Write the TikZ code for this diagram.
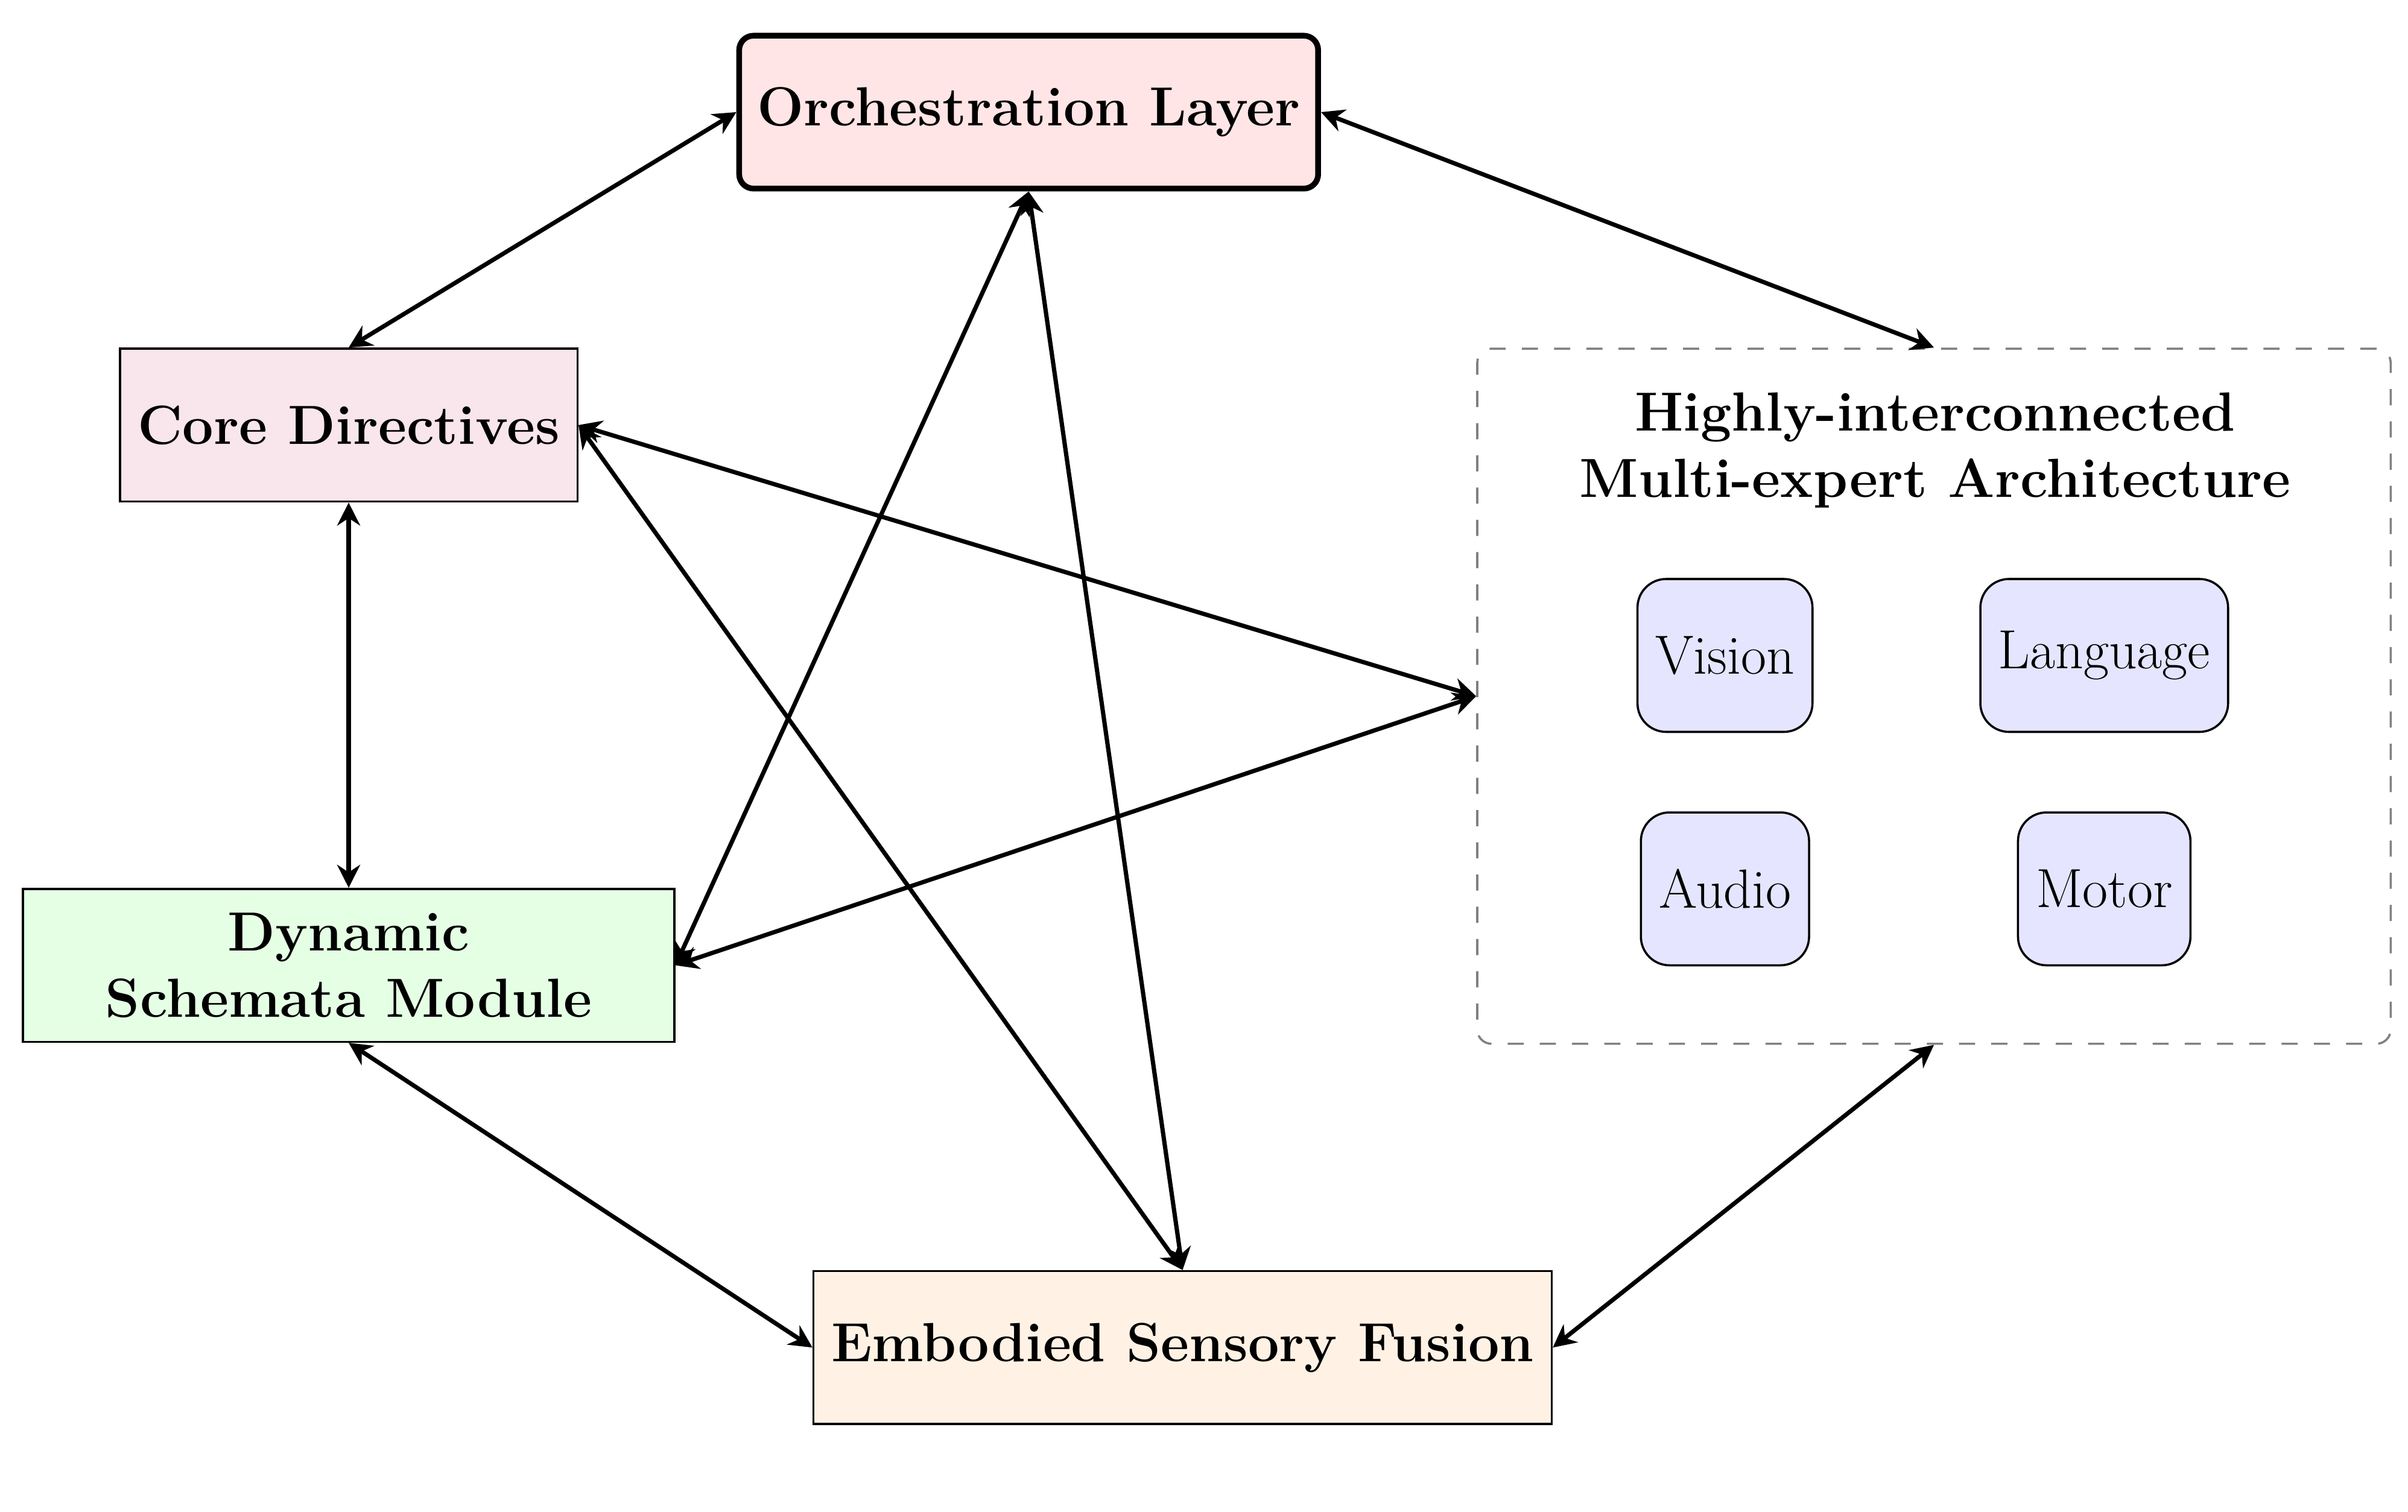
\documentclass[tikz,border=0pt]{standalone}
\usepackage{amsmath}
\usepackage{tikz}
\usetikzlibrary{arrows.meta}

\begin{document}
\begin{tikzpicture}[
    box/.style={draw, semithick, minimum height=1.5cm, inner xsep=5pt, font=\fontsize{15.4}{18.5}\selectfont\bfseries, align=center},
    expert/.style={draw, semithick, rounded corners=8pt, fill=blue!10, minimum height=1.5cm, inner xsep=5pt, font=\fontsize{15.4}{18.5}\selectfont},
    link/.style={{Stealth[length=6.4pt,width=6.4pt]}-{Stealth[length=6.4pt,width=6.4pt]}, very thick}
  ]
  \useasboundingbox (0,0) rectangle (23.62,-14.83);

  \node [box, fill=purple!10] (core) at (3.42,-4.17) {Core Directives};
  \node [box, fill=red!10, ultra thick, rounded corners] (orch) at (10.09,-1.10) {Orchestration Layer};
  \node [box, fill=green!10, minimum width=6.39cm, below of=core, yshift=-4.3cm] (dyn) {Dynamic\\Schemata Module};
  \node [box, fill=orange!10] (emb) at (11.60,-13.22) {Embodied Sensory Fusion};

  \node [draw=gray, semithick, dash pattern=on 4.5pt off 4.5pt, rounded corners,
         minimum width=8.96cm, minimum height=6.82cm] (hub) at (18.97,-6.83) {};
  \node [font=\fontsize{15.4}{18.5}\selectfont\bfseries, align=center] (title) at (18.98,-4.42) {Highly-interconnected\\Multi-expert Architecture};
  \node [expert] (vis) at (16.92,-6.43) {Vision};
  \node [expert, right of=vis, xshift=2.72cm] (lang) {Language};
  \node [expert, below of=vis, yshift=-1.29cm] (aud) {Audio};
  \node [expert, right of=aud, xshift=2.72cm] (mot) {Motor};

  \draw [link] (orch.west) -- (core.north);
  \draw [link] (orch.east) -- (hub.north);
  \draw [link] (orch.south) -- (dyn.east);
  \draw [link] (orch.south) -- (emb.north);
  \draw [link] (core.east) -- (hub.west);
  \draw [link] (core.east) -- (emb.north);
  \draw [link] (core.south) -- (dyn.north);
  \draw [link] (dyn.south) -- (emb.west);
  \draw [link] (hub.south) -- (emb.east);
  \draw [link] (hub.west) -- (dyn.east);
\end{tikzpicture}
\end{document}
